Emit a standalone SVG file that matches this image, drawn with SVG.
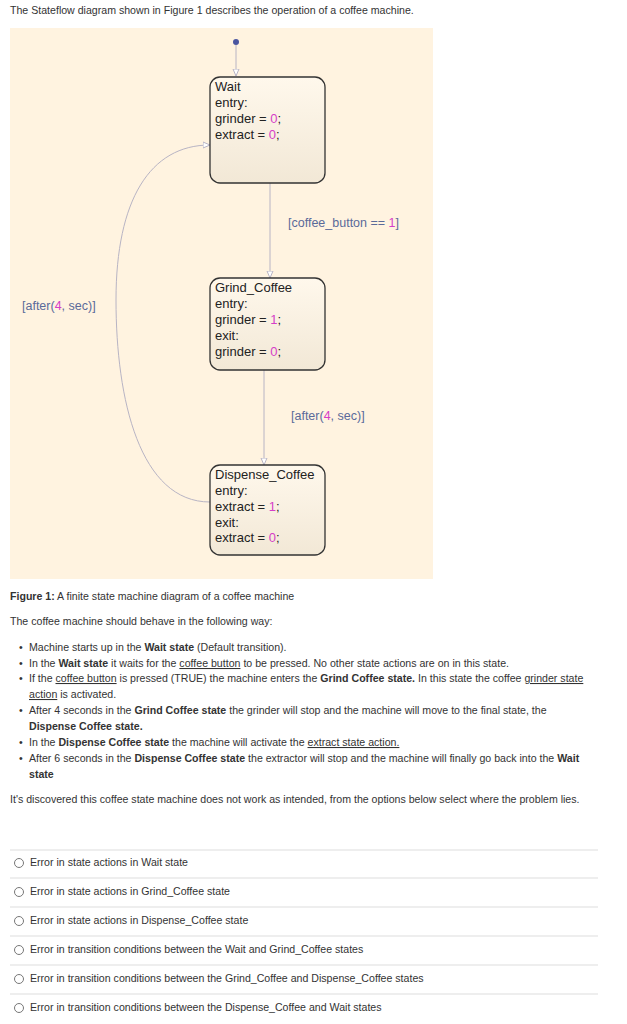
<svg xmlns="http://www.w3.org/2000/svg" width="627" height="1024" viewBox="0 0 627 1024">
<style>
.t{font-family:"Liberation Sans",Arial,sans-serif;font-size:10.6px;fill:#333}
.b{font-weight:bold}
.s{font-family:"Liberation Sans",Arial,sans-serif;font-size:13px;fill:#222}
.g{font-family:"Liberation Sans",Arial,sans-serif;font-size:12.5px;fill:#5a6a9a}
.m{fill:#d63ec8}
.box{fill:url(#gr);stroke:#333;stroke-width:1.3}
.c{fill:none;stroke:#b8b4c4;stroke-width:1}
.u{text-decoration:underline}
</style>
<defs>
<linearGradient id="gr" x1="0" y1="0" x2="0" y2="1"><stop offset="0" stop-color="#fff8ec"/><stop offset="1" stop-color="#f2e8d6"/></linearGradient>
<marker id="a" markerWidth="8" markerHeight="8" refX="7" refY="4" orient="auto" markerUnits="userSpaceOnUse"><path d="M0,1 L7,4 L0,7 Z" fill="#fff" stroke="#b8b4c4"/></marker>
</defs>
<rect width="627" height="1024" fill="#fff"/>
<text class="t" x="10" y="14">The Stateflow diagram shown in Figure 1 describes the operation of a coffee machine.</text>
<rect x="10" y="28" width="423" height="551" fill="#fff3e0"/>
<g id="connectors">
<circle cx="236" cy="42" r="3" fill="#4a55a0"/>
<line class="c" x1="236" y1="45" x2="236" y2="76" marker-end="url(#a)"/>
<line class="c" x1="270" y1="183" x2="270" y2="278" marker-end="url(#a)"/>
<line class="c" x1="264" y1="370" x2="264" y2="465" marker-end="url(#a)"/>
<path class="c" d="M210,502 C140,502 116,400 116,300 C116,200 150,145 210,145" marker-end="url(#a)"/>
<text class="g" x="288" y="227">[coffee_button == <tspan class="m">1</tspan>]</text>
<text class="g" x="22" y="310">[after(<tspan class="m">4</tspan>, sec)]</text>
<text class="g" x="291" y="420">[after(<tspan class="m">4</tspan>, sec)]</text>
</g>
<g id="wait">
<rect class="box" x="210" y="77" width="115" height="106" rx="10"/>
<text class="s" x="215" y="91">Wait</text>
<text class="s" x="215" y="107">entry:</text>
<text class="s" x="215" y="123">grinder = <tspan class="m">0</tspan>;</text>
<text class="s" x="215" y="139">extract = <tspan class="m">0</tspan>;</text>
</g>
<g id="grind">
<rect class="box" x="210" y="278" width="115" height="92" rx="10"/>
<text class="s" x="215" y="292">Grind_Coffee</text>
<text class="s" x="215" y="308">entry:</text>
<text class="s" x="215" y="324">grinder = <tspan class="m">1</tspan>;</text>
<text class="s" x="215" y="340">exit:</text>
<text class="s" x="215" y="356">grinder = <tspan class="m">0</tspan>;</text>
</g>
<g id="dispense">
<rect class="box" x="210" y="465" width="115" height="90" rx="10"/>
<text class="s" x="215" y="479">Dispense_Coffee</text>
<text class="s" x="215" y="495">entry:</text>
<text class="s" x="215" y="511">extract = <tspan class="m">1</tspan>;</text>
<text class="s" x="215" y="527">exit:</text>
<text class="s" x="215" y="542">extract = <tspan class="m">0</tspan>;</text>
</g>
<text class="t" x="10" y="600"><tspan class="b">Figure 1:</tspan> A finite state machine diagram of a coffee machine</text>
<text class="t" x="10" y="625">The coffee machine should behave in the following way:</text>
<g class="t">
<text x="19" y="651">•</text><text x="29" y="651">Machine starts up in the <tspan class="b">Wait state</tspan> (Default transition).</text>
<text x="19" y="667">•</text><text x="29" y="667">In the <tspan class="b">Wait state</tspan> it waits for the <tspan class="u">coffee button</tspan> to be pressed. No other state actions are on in this state.</text>
<text x="19" y="682">•</text><text x="29" y="682">If the <tspan class="u">coffee button</tspan> is pressed (TRUE) the machine enters the <tspan class="b">Grind Coffee state.</tspan> In this state the coffee <tspan class="u">grinder state</tspan></text>
<text x="29" y="698"><tspan class="u">action</tspan> is activated.</text>
<text x="19" y="714">•</text><text x="29" y="714">After 4 seconds in the <tspan class="b">Grind Coffee state</tspan> the grinder will stop and the machine will move to the final state, the</text>
<text x="29" y="730" class="b">Dispense Coffee state.</text>
<text x="19" y="746">•</text><text x="29" y="746">In the <tspan class="b">Dispense Coffee state</tspan> the machine will activate the <tspan class="u">extract state action.</tspan></text>
<text x="19" y="762">•</text><text x="29" y="762">After 6 seconds in the <tspan class="b">Dispense Coffee state</tspan> the extractor will stop and the machine will finally go back into the <tspan class="b">Wait</tspan></text>
<text x="29" y="778" class="b">state</text>
</g>
<text class="t" x="10" y="803">It's discovered this coffee state machine does not work as intended, from the options below select where the problem lies.</text>
<g stroke="#ddd">
<line x1="10" y1="850" x2="598" y2="850"/><line x1="10" y1="878" x2="598" y2="878"/><line x1="10" y1="907" x2="598" y2="907"/><line x1="10" y1="936" x2="598" y2="936"/><line x1="10" y1="965" x2="598" y2="965"/><line x1="10" y1="994" x2="598" y2="994"/>
</g>
<g fill="#fff" stroke="#777">
<circle cx="19" cy="863" r="4.5"/><circle cx="19" cy="892" r="4.5"/><circle cx="19" cy="921" r="4.5"/><circle cx="19" cy="950" r="4.5"/><circle cx="19" cy="979" r="4.5"/><circle cx="19" cy="1008" r="4.5"/>
</g>
<g class="t">
<text x="30" y="866">Error in state actions in Wait state</text>
<text x="30" y="895">Error in state actions in Grind_Coffee state</text>
<text x="30" y="924">Error in state actions in Dispense_Coffee state</text>
<text x="30" y="953">Error in transition conditions between the Wait and Grind_Coffee states</text>
<text x="30" y="982">Error in transition conditions between the Grind_Coffee and Dispense_Coffee states</text>
<text x="30" y="1011">Error in transition conditions between the Dispense_Coffee and Wait states</text>
</g>
</svg>
